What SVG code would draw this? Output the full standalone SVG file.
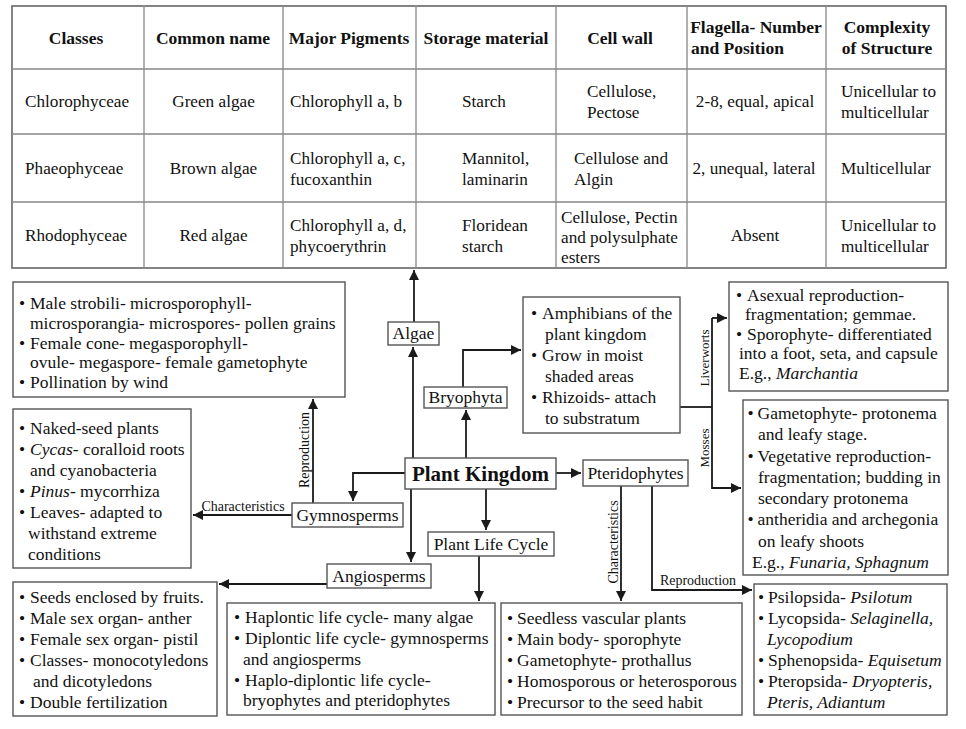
<svg xmlns="http://www.w3.org/2000/svg" width="966" height="729" viewBox="0 0 966 729" font-family="'Liberation Serif', 'DejaVu Serif', Tinos, Times, serif">
<style>
text{font-family:'Liberation Serif','DejaVu Serif',Tinos,Times,serif;fill:#111}
.t{font-size:17.5px}
.tb{font-size:17.2px}
.h{font-size:17.5px;font-weight:bold}
.pk{font-size:21px;font-weight:bold}
.s{font-size:14px}
.s13{font-size:13px}
.it{font-style:italic}
.box{fill:#fff;stroke:#555;stroke-width:1.4}
.grid{stroke:#888;stroke-width:1.3;fill:none}
.ln{stroke:#1a1a1a;stroke-width:1.8;fill:none}
.c{text-anchor:middle}
</style>
<defs>
<marker id="ar" markerUnits="userSpaceOnUse" markerWidth="12" markerHeight="10" refX="10" refY="5" orient="auto">
<path d="M0,0 L10,5 L0,10 Z" fill="#1a1a1a"/>
</marker>
</defs>
<rect width="966" height="729" fill="#fff"/>

<g id="table">
<rect x="12" y="6" width="934" height="262" fill="#fff" stroke="#666" stroke-width="1.6"/>
<path class="grid" d="M12,69H946M12,134H946M12,202H946M144,6V268M283,6V268M416,6V268M556,6V268M687,6V268M826,6V268"/>
<text class="h c" x="76" y="44">Classes</text>
<text class="h c" x="213" y="44">Common name</text>
<text class="h c" x="349" y="44">Major Pigments</text>
<text class="h c" x="486" y="44">Storage material</text>
<text class="h c" x="620" y="44">Cell wall</text>
<text class="h c" x="756" y="33">Flagella- Number</text>
<text class="h" x="691" y="54">and Position</text>
<text class="h c" x="887" y="33">Complexity</text>
<text class="h c" x="887" y="54">of Structure</text>

<text class="tb" x="25" y="107">Chlorophyceae</text>
<text class="tb c" x="213.5" y="107">Green algae</text>
<text class="tb" x="290" y="107">Chlorophyll a, b</text>
<text class="tb" x="462" y="107">Starch</text>
<text class="tb" x="587" y="97">Cellulose,</text>
<text class="tb" x="587" y="118">Pectose</text>
<text class="tb c" x="755" y="107">2-8, equal, apical</text>
<text class="tb" x="841" y="97">Unicellular to</text>
<text class="tb" x="841" y="118">multicellular</text>

<text class="tb" x="25" y="174">Phaeophyceae</text>
<text class="tb c" x="213.5" y="174">Brown algae</text>
<text class="tb" x="290" y="164">Chlorophyll a, c,</text>
<text class="tb" x="290" y="185">fucoxanthin</text>
<text class="tb" x="462" y="164">Mannitol,</text>
<text class="tb" x="462" y="185">laminarin</text>
<text class="tb" x="574" y="164">Cellulose and</text>
<text class="tb" x="574" y="185">Algin</text>
<text class="tb c" x="754" y="174">2, unequal, lateral</text>
<text class="tb" x="841" y="174">Multicellular</text>

<text class="tb" x="25" y="241">Rhodophyceae</text>
<text class="tb c" x="213.5" y="241">Red algae</text>
<text class="tb" x="290" y="231">Chlorophyll a, d,</text>
<text class="tb" x="290" y="252">phycoerythrin</text>
<text class="tb" x="462" y="231">Floridean</text>
<text class="tb" x="462" y="252">starch</text>
<text class="tb" x="561" y="223">Cellulose, Pectin</text>
<text class="tb" x="561" y="243">and polysulphate</text>
<text class="tb" x="561" y="263">esters</text>
<text class="tb c" x="755" y="241">Absent</text>
<text class="tb" x="841" y="231">Unicellular to</text>
<text class="tb" x="841" y="252">multicellular</text>
</g>

<g id="connectors">
<path class="ln" d="M413,458V347" marker-end="url(#ar)"/>
<path class="ln" d="M414,322V270" marker-end="url(#ar)"/>
<path class="ln" d="M466,458V410" marker-end="url(#ar)"/>
<path class="ln" d="M463,387V350H521" marker-end="url(#ar)"/>
<path class="ln" d="M680,407H712"/>
<path class="ln" d="M712,318V488H741" marker-end="url(#ar)"/>
<path class="ln" d="M712,318H727" marker-end="url(#ar)"/>
<path class="ln" d="M556,473H581" marker-end="url(#ar)"/>
<path class="ln" d="M405,473H353V501" marker-end="url(#ar)"/>
<path class="ln" d="M313,503V399" marker-end="url(#ar)"/>
<path class="ln" d="M292,515H193" marker-end="url(#ar)"/>
<path class="ln" d="M411,489V562" marker-end="url(#ar)"/>
<path class="ln" d="M327,584H219" marker-end="url(#ar)"/>
<path class="ln" d="M486,489V530" marker-end="url(#ar)"/>
<path class="ln" d="M479,556V601" marker-end="url(#ar)"/>
<path class="ln" d="M621,486V601" marker-end="url(#ar)"/>
<path class="ln" d="M652,486V590H752" marker-end="url(#ar)"/>
<text class="s c" transform="translate(309,450) rotate(-90)">Reproduction</text>
<text class="s c" x="243" y="511">Characteristics</text>
<text class="s13 c" transform="translate(709,358) rotate(-90)">Liverworts</text>
<text class="s13 c" transform="translate(709,448) rotate(-90)">Mosses</text>
<text class="s c" transform="translate(618,542) rotate(-90)">Characteristics</text>
<text class="s c" x="698" y="585">Reproduction</text>
</g>

<g id="plant-kingdom">
<rect class="box" x="405" y="458" width="151" height="31"/>
<text class="pk c" x="480.5" y="481">Plant Kingdom</text>
</g>
<g id="algae">
<rect class="box" x="388" y="322" width="51" height="23"/>
<text class="t c" x="413.5" y="339">Algae</text>
</g>
<g id="bryophyta">
<rect class="box" x="424" y="387" width="83" height="21"/>
<text class="t c" x="465.5" y="403">Bryophyta</text>
</g>
<g id="pteridophytes">
<rect class="box" x="583" y="460" width="105" height="26"/>
<text class="t c" x="635.5" y="479">Pteridophytes</text>
</g>
<g id="gymnosperms">
<rect class="box" x="292" y="503" width="111" height="24"/>
<text class="t c" x="347.5" y="521">Gymnosperms</text>
</g>
<g id="plant-life-cycle">
<rect class="box" x="428" y="532" width="126" height="24"/>
<text class="t c" x="491" y="550">Plant Life Cycle</text>
</g>
<g id="angiosperms">
<rect class="box" x="327" y="564" width="104" height="24"/>
<text class="t c" x="379" y="582">Angiosperms</text>
</g>

<g id="gymno-reproduction">
<rect class="box" x="13" y="282" width="332" height="115"/>
<text class="t"><tspan x="19" y="309">•</tspan><tspan x="30">Male strobili- microsporophyll-</tspan></text>
<text class="t" x="30" y="329">microsporangia- microspores- pollen grains</text>
<text class="t"><tspan x="19" y="349">•</tspan><tspan x="30">Female cone- megasporophyll-</tspan></text>
<text class="t" x="30" y="368">ovule- megaspore- female gametophyte</text>
<text class="t"><tspan x="19" y="388">•</tspan><tspan x="30">Pollination by wind</tspan></text>
</g>

<g id="gymno-characteristics">
<rect class="box" x="13" y="409" width="178" height="159"/>
<text class="t"><tspan x="19" y="434">•</tspan><tspan x="30">Naked-seed plants</tspan></text>
<text class="t"><tspan x="19" y="455">•</tspan><tspan x="30" class="it">Cycas</tspan><tspan>- coralloid roots</tspan></text>
<text class="t" x="30" y="476">and cyanobacteria</text>
<text class="t"><tspan x="19" y="497">•</tspan><tspan x="30" class="it">Pinus</tspan><tspan>- mycorrhiza</tspan></text>
<text class="t"><tspan x="19" y="518">•</tspan><tspan x="30">Leaves- adapted to</tspan></text>
<text class="t" x="28" y="539">withstand extreme</text>
<text class="t" x="28" y="560">conditions</text>
</g>

<g id="angio-characteristics">
<rect class="box" x="13" y="582" width="204" height="134"/>
<text class="t"><tspan x="19" y="603">•</tspan><tspan x="30">Seeds enclosed by fruits.</tspan></text>
<text class="t"><tspan x="19" y="624">•</tspan><tspan x="30">Male sex organ- anther</tspan></text>
<text class="t"><tspan x="19" y="645">•</tspan><tspan x="30">Female sex organ- pistil</tspan></text>
<text class="t"><tspan x="19" y="666">•</tspan><tspan x="30">Classes- monocotyledons</tspan></text>
<text class="t" x="33" y="687">and dicotyledons</text>
<text class="t"><tspan x="19" y="708">•</tspan><tspan x="30">Double fertilization</tspan></text>
</g>

<g id="life-cycle-info">
<rect class="box" x="227" y="603" width="268" height="112"/>
<text class="t"><tspan x="234" y="623">•</tspan><tspan x="245">Haplontic life cycle- many algae</tspan></text>
<text class="t"><tspan x="234" y="644">•</tspan><tspan x="245">Diplontic life cycle- gymnosperms</tspan></text>
<text class="t" x="243" y="665">and angiosperms</text>
<text class="t"><tspan x="234" y="686">•</tspan><tspan x="245">Haplo-diplontic life cycle-</tspan></text>
<text class="t" x="243" y="706">bryophytes and pteridophytes</text>
</g>

<g id="pterido-characteristics">
<rect class="box" x="501" y="603" width="241" height="112"/>
<text class="t"><tspan x="507" y="624">•</tspan><tspan x="517">Seedless vascular plants</tspan></text>
<text class="t"><tspan x="507" y="645">•</tspan><tspan x="517">Main body- sporophyte</tspan></text>
<text class="t"><tspan x="507" y="666">•</tspan><tspan x="517">Gametophyte- prothallus</tspan></text>
<text class="t"><tspan x="507" y="687">•</tspan><tspan x="517">Homosporous or heterosporous</tspan></text>
<text class="t"><tspan x="507" y="708">•</tspan><tspan x="517">Precursor to the seed habit</tspan></text>
</g>

<g id="pterido-reproduction">
<rect class="box" x="754" y="584" width="193" height="131"/>
<text class="t"><tspan x="758" y="603">•</tspan><tspan x="768">Psilopsida- </tspan><tspan class="it">Psilotum</tspan></text>
<text class="t"><tspan x="758" y="624">•</tspan><tspan x="768">Lycopsida- </tspan><tspan class="it">Selaginella,</tspan></text>
<text class="t it" x="767" y="645">Lycopodium</text>
<text class="t"><tspan x="758" y="666">•</tspan><tspan x="768">Sphenopsida- </tspan><tspan class="it">Equisetum</tspan></text>
<text class="t"><tspan x="758" y="687">•</tspan><tspan x="768">Pteropsida- </tspan><tspan class="it">Dryopteris,</tspan></text>
<text class="t it" x="767" y="708">Pteris, Adiantum</text>
</g>

<g id="bryophyta-info">
<rect class="box" x="523" y="297" width="157" height="136"/>
<text class="t"><tspan x="531" y="319">•</tspan><tspan x="542">Amphibians of the</tspan></text>
<text class="t" x="545" y="340">plant kingdom</text>
<text class="t"><tspan x="531" y="361">•</tspan><tspan x="542">Grow in moist</tspan></text>
<text class="t" x="545" y="382">shaded areas</text>
<text class="t"><tspan x="531" y="403">•</tspan><tspan x="542">Rhizoids- attach</tspan></text>
<text class="t" x="545" y="424">to substratum</text>
</g>

<g id="liverworts">
<rect class="box" x="729" y="282" width="219" height="109"/>
<text class="t"><tspan x="736" y="301">•</tspan><tspan x="747">Asexual reproduction-</tspan></text>
<text class="t" x="745" y="320">fragmentation; gemmae.</text>
<text class="t"><tspan x="736" y="340">•</tspan><tspan x="747">Sporophyte- differentiated</tspan></text>
<text class="t" x="739" y="359">into a foot, seta, and capsule</text>
<text class="t"><tspan x="739" y="379">E.g., </tspan><tspan class="it">Marchantia</tspan></text>
</g>

<g id="mosses">
<rect class="box" x="743" y="400" width="205" height="175"/>
<text class="t"><tspan x="747.5" y="419">•</tspan><tspan x="757.5">Gametophyte- protonema</tspan></text>
<text class="t" x="758" y="440">and leafy stage.</text>
<text class="t"><tspan x="747.5" y="462">•</tspan><tspan x="757.5">Vegetative reproduction-</tspan></text>
<text class="t" x="758" y="483">fragmentation; budding in</text>
<text class="t" x="758" y="504">secondary protonema</text>
<text class="t"><tspan x="747.5" y="525">•</tspan><tspan x="757.5">antheridia and archegonia</tspan></text>
<text class="t" x="758" y="547">on leafy shoots</text>
<text class="t"><tspan x="752" y="568">E.g., </tspan><tspan class="it">Funaria, Sphagnum</tspan></text>
</g>
</svg>
